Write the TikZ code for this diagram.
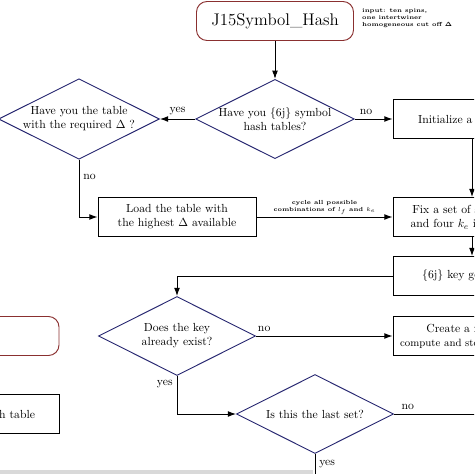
\documentclass[tikz,border=0pt]{standalone}
\usepackage{amssymb}
\usepackage{amsfonts}
\usepackage{amsmath}
\usepackage{bm}
\usepackage{tikz}
\usetikzlibrary{shapes.geometric,arrows.meta}
\definecolor{askblue}{RGB}{38,38,112}
\definecolor{endred}{RGB}{138,48,48}

\begin{document}
\begin{tikzpicture}[x=0.03cm,y=-0.03cm,>={Latex[length=7pt,width=5pt]},line width=0.8pt]
        \tikzstyle{box} = [rectangle, draw, minimum width=4.74cm, minimum height=1.17cm, align=center]
        \tikzstyle{ask} = [diamond, draw=askblue, aspect=2, inner sep=0pt, minimum width=4.71cm, minimum height=2.37cm, align=center]
        \tikzstyle{term} = [rectangle, rounded corners=9pt, draw=endred, minimum width=4.71cm, minimum height=1.17cm]
        \tikzstyle{tag} = [font=\tiny\bfseries, align=center, inner sep=1.5pt]
        \useasboundingbox (0,0) rectangle (474,474);
        \clip (0,0) rectangle (474,474);
        \fill[gray!30] (0,470) rectangle (313,474);
        % nodes
        \node[term] (start) at (275,21) {\Large J15Symbol\_Hash};
        \node[tag, anchor=west, align=left] (input) at (360,18) {input: ten spins,\\one intertwiner\\homogeneous cut off $\boldsymbol{\Delta}$};
        \node[ask] (d1) at (275,119) {Have you \{6j\} symbol\\hash tables?};
        \node[ask] (d2) at (79,119) {Have you the table\\with the required $\Delta$ ?};
        \node[box] (init) at (472,119) {Initialize a new table};
        \node[box] (load) at (177,217) {Load the table with\\the highest $\Delta$ available};
        \node[box] (fix) at (472,217) {Fix a set of six $l_f$ spins\\and four $k_e$ intertwiners};
        \node[box] (key) at (472,276) {\{6j\} key generation};
        \node[ask] (d3) at (177,336) {Does the key\\already exist?};
        \node[box] (create) at (472,336) {Create a new key,\\{\small compute and store the symbol}};
        \node[term] (exit) at (-19.5,336) {};
        \node[box, text width=3.27cm, align=right] (store) at (-19.5,414) {Store the hash table};
        \node[ask] (d4) at (315,414) {Is this the last set?};
        \coordinate (nextset) at (520,414);
        \coordinate (done) at (315,500);
        % connectors
        \foreach \from/\to in {start/d1, init/fix, fix/key}
            \draw[->] (\from) -- (\to);
        \draw[->] (d1) -- node[above] {yes} (d2);
        \draw[->] (d1) -- node[above, pos=0.3] {no} (init);
        \draw[->] (d2) |- node[right, pos=0.15] {no} (load);
        \draw[->] (load) -- node[tag, above] {cycle all possible\\combinations of $l_f$ and $k_e$} (fix);
        \draw[->] (key) -| (d3);
        \draw[->] (d3) -- node[above, pos=0.06] {no} (create);
        \draw[->] (d3) |- node[left, pos=0.1] {yes} (d4);
        \draw (d4) -- node[above, pos=0.11] {no} (nextset);
        \draw (d4) -- node[right, pos=0.23] {yes} (done);
    \end{tikzpicture}
\end{document}
